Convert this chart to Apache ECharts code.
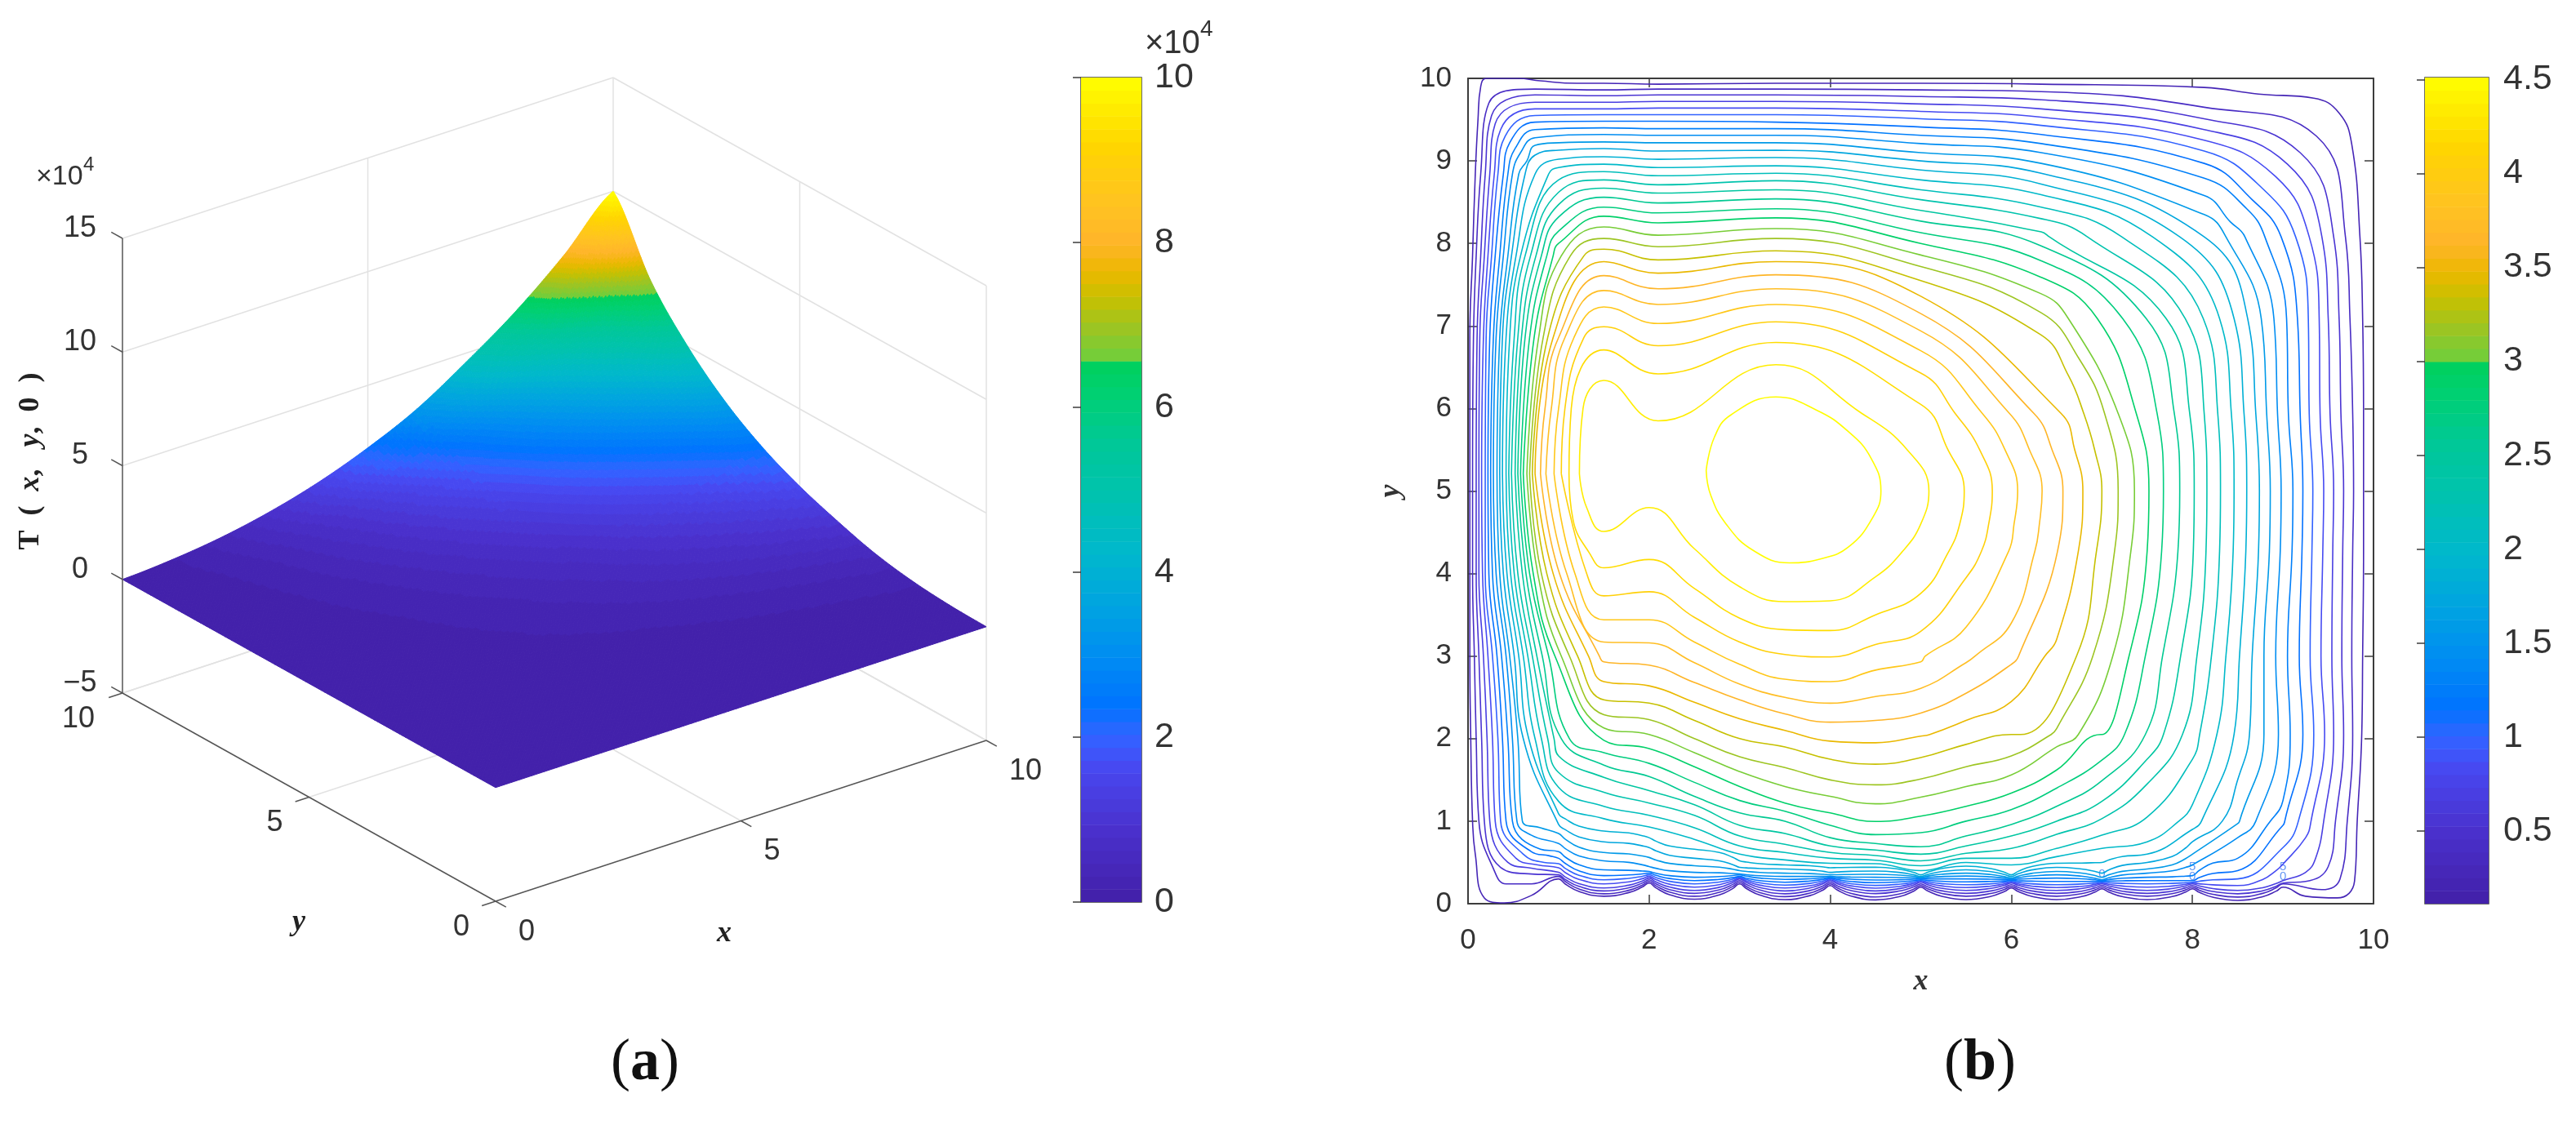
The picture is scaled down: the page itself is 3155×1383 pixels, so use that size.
<!DOCTYPE html>
<html>
<head>
<meta charset="utf-8">
<title>T(x, y, 0)</title>
<script src="https://cdn.jsdelivr.net/npm/echarts@6/dist/echarts.min.js"></script>
<style>
html, body { margin: 0; padding: 0; background: #fff; }
#main { width: 3155px; height: 1383px; }
</style>
</head>
<body>
<div id="main"></div>
<script>
var n = null;

// (a) surface values in units of 10^4, rows y = 0..10, columns x = 0..10
var surfaceZ = [
  [0, 0, 0, 0, 0, 0, 0, 0, 0, 0, 0],
  [0, 0, 0, 0, .01, .01, .02, .02, .03, .04, .05],
  [0, 0, .01, .02, .03, .05, .07, .09, .12, .16, .2],
  [0, .01, .02, .04, .07, .11, .16, .23, .31, .4, .5],
  [0, .02, .04, .09, .15, .23, .33, .46, .61, .79, 1],
  [0, .02, .07, .14, .23, .36, .52, .74, .98, 1.26, 1.6],
  [0, .04, .1, .2, .35, .54, .78, 1.1, 1.46, 1.9, 2.4],
  [0, .05, .15, .3, .51, .79, 1.14, 1.61, 2.14, 2.77, 3.5],
  [0, .08, .21, .43, .73, 1.13, 1.63, 2.3, 3.05, 3.95, 5],
  [0, .11, .29, .6, 1.02, 1.58, 2.28, 3.22, 4.27, 5.53, 7],
  [0, .15, .42, .85, 1.45, 2.25, 3.25, 4.6, 6.1, 7.9, 10]
];
var xTicks3d = [0, 5, 10];
var yTicks3d = [0, 5, 10];
var zTicks3d = [-5, 0, 5, 10, 15];
var colorbarTicksA = [0, 2, 4, 6, 8, 10];

// (b) contour levels, outermost first
var contourLevels = [.26, .41, .55, .7, .85, .99, 1.14, 1.28, 1.43, 1.58, 1.72, 1.87, 2.01, 2.16, 2.31, 2.45, 2.6, 2.74, 2.89, 3.04, 3.18, 3.33, 3.47, 3.62, 3.77, 3.91, 4.06, 4.2, 4.35, 4.49];
var colorbarTicksB = [0.5, 1, 1.5, 2, 2.5, 3, 3.5, 4, 4.5];

// x of each contour where it crosses a level y, left side
var leftYs = [1, 2, 3, 4, 5.21, 6, 6.86, 7.85, 8.84];
var leftX = [
  [.05, .12, .18, .24, .30, .36, .42, .49, .54, .60],
  [.03, .09, .15, .21, .27, .33, .38, .44, .49, .55, .61, .67, .74, .81, .88, .95, 1.03, 1.12],
  [.02, .07, .12, .17, .22, .27, .32, .37, .42, .46, .51, .56, .61, .66, .71, .76, .82, .89, .96, 1.03, 1.12, 1.21, 1.33, 1.45],
  [.02, .05, .09, .12, .16, .19, .23, .27, .31, .35, .39, .43, .47, .51, .55, .60, .64, .68, .72, .77, .81, .87, .94, 1.01, 1.09, 1.18, 1.31],
  [.02, .05, .09, .12, .15, .19, .22, .25, .28, .32, .35, .38, .42, .45, .48, .52, .55, .58, .61, .65, .68, .71, .74, .80, .86, .95, 1.03, 1.115, 1.23],
  [n, n, n, n, n, n, n, n, n, n, n, n, n, n, n, n, n, n, n, n, n, n, n, .85, .92, 1.0, 1.07, 1.14, 1.27],
  [.02, .06, .10, .13, .17, .20, .24, .28, .31, .35, .38, .42, .46, .51, .55, .59, .63, .68, .73, .78, .83, .88, .94, 1.0, 1.07, 1.17, 1.28],
  [.05, .09, .14, .18, .22, .26, .30, .35, .39, .44, .48, .53, .58, .63, .69, .75, .81, .87, .94, 1.03, 1.13, 1.28],
  [.08, .14, .19, .24, .29, .33, .39, .44, .49, .56, .63, .74, .89]
];

// y of each contour where it crosses a level x, upper side
var topXs = [.74, 1, 1.5, 2.1, 3.4, 5, 6.33, 8.13];
var topY = [
  [n, 9.87, 9.80, 9.71, 9.63, 9.55, 9.47, 9.38, 9.28, 9.19, 9.07],
  [n, n, n, n, n, n, n, n, n, 9.22, 9.13, 9.02, 8.92, 8.77, 8.62, 8.47, 8.32, 8.15, 8.0],
  [9.94, 9.86, 9.79, 9.71, 9.63, 9.56, 9.48, 9.40, 9.32, 9.23, 9.15, 9.05, 8.96, 8.87, 8.77, 8.67, 8.56, 8.44, 8.33, 8.20, 8.06, 7.93, 7.78, 7.61, 7.43, 7.23, 6.99, 6.71, 6.34],
  [9.93, 9.87, 9.80, 9.72, 9.64, 9.56, 9.48, 9.39, 9.31, 9.22, 9.12, 9.02, 8.92, 8.82, 8.71, 8.61, 8.49, 8.37, 8.25, 8.10, 7.96, 7.80, 7.64, 7.45, 7.26, 7.03, 6.76, 6.42, 5.85],
  [9.94, 9.87, 9.80, 9.72, 9.64, 9.56, 9.47, 9.39, 9.31, 9.22, 9.13, 9.04, 8.94, 8.85, 8.76, 8.65, 8.54, 8.42, 8.31, 8.18, 8.06, 7.91, 7.78, 7.62, 7.45, 7.26, 7.05, 6.80, 6.53],
  [9.94, 9.86, 9.78, 9.69, 9.60, 9.51, 9.41, 9.31, 9.21, 9.10, 9.00, 8.89, 8.77, 8.65, 8.53, 8.40, 8.27, 8.13, 8.0, 7.86, 7.72, 7.55, 7.36, 7.15, 6.94, 6.7, 6.43, 6.05],
  [9.93, 9.84, 9.74, 9.63, 9.53, 9.43, 9.32, 9.21, 9.10, 8.97, 8.85, 8.72, 8.59, 8.44, 8.30, 8.14, 7.97, 7.79, 7.59, 7.39, 7.16, 6.89],
  [9.89, 9.65, 9.51, 9.38, 9.25, 9.12, 8.97, 8.79, 8.58, 8.35]
];

// x of each contour where it crosses a level y, right side
var rightYs = [1, 2.05, 3, 4.27, 4.6, 5, 5.5, 5.94, 7.09, 8.08];
var rightX = [
  [9.82, 9.71, 9.58, 9.45, 9.31, 9.17, 9.02, 8.86, 8.7, 8.52, 8.33, 8.1, 7.85],
  [9.87, 9.77, 9.67, 9.56, 9.46, 9.34, 9.22, 9.08, 8.95, 8.79, 8.63, 8.46, 8.27, 8.08, 7.89, 7.68, 7.48, 7.25, 6.99, 6.74, 6.44, 6.1, 5.1],
  [9.88, 9.76, 9.65, 9.54, 9.42, 9.30, 9.18, 9.05, 8.92, 8.79, 8.66, 8.52, 8.37, 8.21, 8.05, 7.87, 7.67, 7.48, 7.3, 7.12, 6.9, 6.72, 6.37, 6.08, 5.6, 5.05],
  [9.89, 9.77, 9.66, 9.55, 9.44, 9.32, 9.21, 9.10, 8.97, 8.85, 8.73, 8.59, 8.45, 8.30, 8.15, 8.01, 7.84, 7.66, 7.50, 7.32, 7.14, 6.94, 6.74, 6.51, 6.26, 5.97, 5.67, 5.31, 4.80],
  [n, n, n, n, n, n, n, n, n, n, n, n, n, n, n, n, n, n, n, n, n, n, n, n, 6.31, 6.03, 5.75, 5.43, 5.0],
  [9.89, 9.78, 9.67, 9.56, 9.45, 9.33, 9.22, 9.11, 8.98, 8.86, 8.74, 8.60, 8.46, 8.31, 8.16, 8.02, 7.86, 7.68, 7.52, 7.36, 7.18, 7.0, 6.79, 6.57, 6.34, 6.07, 5.79, 5.48, 5.09],
  [n, n, n, n, n, n, n, n, n, n, n, n, n, n, n, n, n, n, n, n, n, 6.92, 6.7, 6.45, 6.2, 5.93, 5.65, 5.3, 4.85],
  [9.89, 9.77, 9.64, 9.52, 9.41, 9.29, 9.19, 9.06, 8.94, 8.82, 8.70, 8.57, 8.43, 8.28, 8.13, 7.97, 7.80, 7.61, 7.38, 7.18, 7.03, 6.8, 6.55, 6.25, 5.98, 5.68, 5.38, n, 4.35],
  [9.88, 9.74, 9.62, 9.5, 9.4, 9.28, 9.16, 9.04, 8.9, 8.76, 8.61, 8.46, 8.3, 8.12, 7.92, 7.71, 7.49, 7.23, 6.95, 6.63],
  [9.85, 9.69, 9.56, 9.43, 9.29, 9.14, 8.98, 8.8, 8.58, 8.37, 8.13, 7.86, 7.56, 7.22, 6.84, 6.42]
];

// y of each contour along the bottom, one row per contour, pinched at the hubs
var bottomXs = [1, 1.5, 2, 2.5, 3, 3.5, 4, 4.5, 5, 5.5, 6, 6.5, 7, 7.5, 8, 8.5, 9];
var bottomY = [
  [.30, .09, .25, .055, .24, .05, .22, .046, .20, .05, .19, .05, .18, .05, .18, .04, .20],
  [.33, .12, .27, .09, .26, .085, .24, .082, .22, .09, .21, .09, .20, .09, .20, .08, .24],
  [.35, .155, .29, .125, .28, .12, .26, .122, .24, .125, .23, .125, .22, .125, .22, .12, .25],
  [.38, .19, .31, .16, .30, .155, .28, .155, .26, .16, .25, .16, .24, .16, .24, .16, .28],
  [.435, .24, .33, .20, .31, .19, .29, .188, .27, .195, .26, .195, .25, .20, .25, .22, .48],
  [.485, .29, .35, .24, .32, .225, .30, .221, .28, .23, .27, .23, .26, .24, .26, .30, .68],
  [.55, .34, .37, .28, .33, .26, .31, .254, .29, .265, .28, .27, .27, .28, .28, .40, .95],
  [.63, .41, .39, .32, .35, .295, .32, .287, .30, .30, .29, .31, .28, .32, .34, .55, 1.25],
  [.73, .52, .45, .38, .36, .33, .33, .32, .31, .335, .30, .35, .29, .37, .47, .80],
  [.85, .62, .56, .46, .40, .37, .35, .356, .32, .37, .31, .39, .32, .42, .60, .97],
  [.96, .75, .68, .55, .44, .42, .38, .396, .33, .41, .33, .44, .37, .50, .75, 1.5],
  [1.09, .88, .80, .66, .52, .47, .435, .442, .35, .455, .35, .49, .50, .60, .90],
  [1.24, 1.03, .93, .78, .60, .53, .49, .485, .40, .50, .47, .57, .67, .75, 1.2],
  [1.41, 1.18, 1.07, .92, .70, .62, .55, .527, .46, .55, .55, .67, .83, 1.05, 1.75],
  [1.59, 1.35, 1.22, 1.07, .82, .72, .62, .584, .52, .61, .67, .84, 1.03, 1.45],
  [1.79, 1.53, 1.37, 1.2, .95, .85, .70, .65, .60, .70, .82, 1.0, 1.24, 1.75],
  [n, 1.68, 1.54, 1.3, 1.1, 1.0, .80, .73, .69, .82, .96, 1.18, 1.49],
  [n, 1.83, 1.70, 1.47, 1.25, 1.12, .95, .837, .86, 1.0, 1.14, 1.4, 1.74],
  [n, 1.98, 1.88, 1.66, 1.42, 1.22, 1.1, .996, 1.06, 1.18, 1.34, 1.62, 2.05],
  [n, 2.13, 2.05, 1.83, 1.6, 1.42, 1.3, 1.21, 1.29, 1.42, 1.56, 1.9],
  [n, 2.29, 2.23, 2.0, 1.78, 1.65, 1.5, 1.44, 1.51, 1.66, 1.79, 2.12],
  [n, 2.47, 2.43, 2.22, 2.0, 1.9, 1.75, 1.69, 1.77, 1.93, 2.05],
  [n, 2.69, 2.64, 2.44, 2.24, 2.1, 1.97, 1.95, 2.03, 2.22, 2.45, 3.2],
  [n, 2.93, 2.89, 2.68, 2.47, 2.3, 2.2, 2.22, 2.31, 2.55, 2.9],
  [n, 3.17, 3.16, 2.92, 2.66, 2.5, 2.43, 2.51, 2.61, 2.92, 3.4],
  [n, 3.44, 3.44, 3.17, 2.90, 2.72, 2.69, 2.83, 2.93, 3.35],
  [n, 3.73, 3.78, 3.47, 3.17, 3.02, 2.99, 3.14, 3.30, 3.95],
  [n, 4.07, 4.17, 3.82, 3.46, 3.32, 3.31, 3.50, 3.76],
  [n, 4.51, 4.80, 4.30, 3.84, 3.66, 3.67, 3.96]
];

// a few more points that do not sit on the levels above, per contour
var extraPoints = {
  0: [[.08, .6], [.18, .07], [.4, .01], [.7, .10], [9.79, .27], [9.6, .07], [9.25, .09], [.11, 9.5], [.14, 9.9], [.2, 10], [.55, 10], [.8, 9.97], [1.2, 9.94], [8.73, 9.81], [9.34, 9.76], [9.62, 9.58], [9.76, 9.2]],
  1: [[.29, .40], [.42, .24], [.7, .24], [9.63, .3], [9.43, .17], [.23, 9.7], [9.37, 9.30]],
  2: [[.36, .44], [.7, .36], [9.5, .45], [9.25, .27], [.26, 9.55], [9.19, 9.10]],
  3: [[.44, .5], [.7, .43], [9.36, .55], [9.25, .38], [.3, 9.45], [9.05, 8.96]],
  4: [[.53, .55], [.77, .47], [9.25, .8], [.36, 9.38], [8.92, 8.81]],
  5: [[.61, .6], [.84, .5], [.41, 9.3], [8.78, 8.66]],
  6: [[.7, .63], [.9, .58], [.46, 9.22], [8.66, 8.53]],
  7: [[.8, .66], [.52, 9.15], [8.6, 8.42]],
  8: [[.7, .83], [.58, 9.1], [8.42, 8.26]],
  9: [[.8, .92], [.65, 9.0]],
  20: [[6.75, 6.6]],
  21: [[6.63, 6.4]],
  27: [[1.16, 4.65], [1.34, 4.25]],
  28: [[1.31, 4.8]]
};

// innermost closed contour
var innerLoop = [[2.63, 5.25], [2.72, 5.65], [2.9, 5.92], [3.4, 6.14], [3.85, 5.98], [4.2, 5.72], [4.45, 5.4], [4.56, 5.0], [4.47, 4.68], [4.2, 4.32], [3.9, 4.18], [3.55, 4.13], [3.15, 4.28], [2.85, 4.6], [2.68, 4.95], [2.63, 5.25]];

// small clabel leftovers near the last hubs
var hubLabelX = [7, 8, 8, 9, 9];
var hubLabelY = [.36, .45, .33, .45, .33];
var hubLabelText = ['0', '5', '0', '5', '0'];

// colormap: position 0..1, colour
var rampStops = [[0, '#421fa8'], [.087, '#4a30cc'], [.163, '#4848f0'], [.19, '#3a5cff'], [.218, '#1f6cff'], [.235, '#0072ff'], [.307, '#0090f0'], [.36, '#00a4e0'], [.425, '#00b8cc'], [.49, '#00c2b0'], [.556, '#00c898'], [.62, '#00d070'], [.655, '#00d05c'], [.658, '#6fcf3c'], [.70, '#a0c420'], [.733, '#c8c000'], [.765, '#ecb800'], [.80, '#ffb52a'], [.85, '#ffc420'], [.916, '#ffd500'], [1, '#ffff00']];
var rampSteps = 64;
var colorbarMinB = .114, colorbarMaxB = 4.51;

var sansFont = '"Liberation Sans"';
var serifFont = '"Liberation Serif"';
var textColor = '#333';
var axisColor = '#3c3c3c';

function rampColor(f) {
  f = Math.max(0, Math.min(1, f));
  for (var i = 1; i < rampStops.length; i++) {
    if (f <= rampStops[i][0]) {
      var a = rampStops[i - 1], b = rampStops[i];
      return echarts.color.lerp((f - a[0]) / (b[0] - a[0]), [a[1], b[1]]);
    }
  }
  return rampStops[rampStops.length - 1][1];
}
var ramp = [];
for (var r = 0; r < rampSteps; r++) ramp.push(rampColor((r + .5) / rampSteps));

// oblique projection of the 3d box into the hidden cartesian of panel (a)
function project(x, y, z) {
  return [60.1 * x - 45.7 * y, 19.7 * x + 25.5 * y + 27.85 * (z + 5)];
}

// Catmull-Rom through the surface table, only used to shade between table cells
function cr(p0, p1, p2, p3, t) {
  return .5 * (2 * p1 + (p2 - p0) * t + (2 * p0 - 5 * p1 + 4 * p2 - p3) * t * t + (3 * p1 - p0 - 3 * p2 + p3) * t * t * t);
}
function surfaceAt(x, y) {
  var i = Math.min(9, Math.floor(x)), j = Math.min(9, Math.floor(y));
  var row = [];
  for (var k = -1; k <= 2; k++) {
    var rowVals = surfaceZ[Math.max(0, Math.min(10, j + k))];
    row.push(cr(rowVals[Math.max(0, i - 1)], rowVals[i], rowVals[i + 1], rowVals[Math.min(10, i + 2)], x - i));
  }
  return Math.max(0, cr(row[0], row[1], row[2], row[3], y - j));
}

function contourPoints(c) {
  var pts = [];
  leftYs.forEach(function (y, s) { if (leftX[s][c] != null) pts.push([leftX[s][c], y]); });
  topXs.forEach(function (x, s) { if (topY[s][c] != null) pts.push([x, topY[s][c]]); });
  rightYs.forEach(function (y, s) { if (rightX[s][c] != null) pts.push([rightX[s][c], y]); });
  bottomXs.forEach(function (x, s) { if (bottomY[c][s] != null) pts.push([x, bottomY[c][s]]); });
  // the lens arcs between hubs are round on top and cusped at the hubs
  if (c < 12) {
    bottomXs.forEach(function (x, s) {
      var mid = bottomY[c][s];
      if (s % 2 === 0 || mid == null) return;
      [s - 1, s + 1].forEach(function (h) {
        var hub = bottomY[c][h];
        if (hub != null && Math.abs(mid - hub) < .3) {
          pts.push([x + (bottomXs[h] - x) * .55, hub + (mid - hub) * .72]);
          pts.push([x + (bottomXs[h] - x) * .85, hub + (mid - hub) * .3]);
        }
      });
    });
  }
  (extraPoints[c] || []).forEach(function (p) { pts.push(p); });
  // walk round the contour by angle from a point inside all of them
  pts.sort(function (a, b) {
    return Math.atan2(a[1] - 5.3, a[0] - 2.1) - Math.atan2(b[1] - 5.3, b[0] - 2.1);
  });
  pts.push(pts[0]);
  return pts;
}

var contourSeries = [];
contourLevels.forEach(function (level, c) {
  contourSeries.push({
    type: 'line',
    xAxisIndex: 2,
    yAxisIndex: 2,
    data: c < bottomY.length ? contourPoints(c) : innerLoop,
    smooth: .45,
    showSymbol: false,
    clip: true,
    silent: true,
    lineStyle: { width: 1.6, color: rampColor((level - colorbarMinB) / (colorbarMaxB - colorbarMinB)) }
  });
});

// box lines of panel (a)
var boxLines = [];
zTicks3d.forEach(function (z) {
  boxLines.push([0, 10, z, 10, 10, z], [10, 10, z, 10, 0, z]);
});
boxLines.push([5, 10, -5, 5, 10, 15], [10, 10, -5, 10, 10, 15], [10, 5, -5, 10, 5, 15], [10, 0, -5, 10, 0, 15]);
boxLines.push([5, 0, -5, 5, 10, -5], [0, 5, -5, 10, 5, -5], [0, 10, -5, 10, 10, -5], [10, 0, -5, 10, 10, -5]);

var axisLines = [[0, 0, -5, 10, 0, -5], [0, 0, -5, 0, 10, -5], [0, 10, -5, 0, 10, 15]];
xTicks3d.forEach(function (x) { axisLines.push([x, 0, -5, x, -.28, -5]); });
yTicks3d.forEach(function (y) { axisLines.push([0, y, -5, -.28, y, -5]); });
zTicks3d.forEach(function (z) { axisLines.push([0, 10, z, 0, 10.3, z]); });

function segmentSeries(data, color, width) {
  return {
    type: 'custom',
    xAxisIndex: 0,
    yAxisIndex: 0,
    clip: false,
    silent: true,
    data: data,
    renderItem: function (params, api) {
      var a = api.coord(project(api.value(0), api.value(1), api.value(2)));
      var b = api.coord(project(api.value(3), api.value(4), api.value(5)));
      return {
        type: 'line',
        shape: { x1: a[0], y1: a[1], x2: b[0], y2: b[1] },
        style: { stroke: color, lineWidth: width }
      };
    }
  };
}

var surfaceCells = [];
for (var cy = 9; cy >= 0; cy--) {
  for (var cx = 9; cx >= 0; cx--) surfaceCells.push([cx, cy]);
}

var surfaceSeries = {
  type: 'custom',
  xAxisIndex: 0,
  yAxisIndex: 0,
  clip: false,
  silent: true,
  progressive: 0,
  data: surfaceCells,
  renderItem: function (params, api) {
    var cx = api.value(0), cy = api.value(1), children = [];
    // the steep cells near the peak need finer shading
    var subdivisions = (cx >= 6 && cy >= 6) ? 36 : 12;
    var step = 1 / subdivisions;
    for (var a = subdivisions - 1; a >= 0; a--) {
      for (var b = subdivisions - 1; b >= 0; b--) {
        var x0 = cx + a * step, y0 = cy + b * step, x1 = x0 + step, y1 = y0 + step;
        var z = surfaceAt(x0 + step / 2, y0 + step / 2);
        var color = ramp[Math.min(rampSteps - 1, Math.floor(z / 10 * rampSteps))];
        children.push({
          type: 'polygon',
          shape: {
            points: [
              api.coord(project(x0, y0, surfaceAt(x0, y0))),
              api.coord(project(x1, y0, surfaceAt(x1, y0))),
              api.coord(project(x1, y1, surfaceAt(x1, y1))),
              api.coord(project(x0, y1, surfaceAt(x0, y1)))
            ]
          },
          style: { fill: color, stroke: color, lineWidth: 1 }
        });
      }
    }
    return { type: 'group', children: children };
  }
};

// tick labels of panel (a): [x, y, z, text, dx, dy]
var tickLabels3d = [];
xTicks3d.forEach(function (x) { tickLabels3d.push([x, 0, -5, String(x), x === 10 ? 48 : 38, 38]); });
yTicks3d.forEach(function (y) { tickLabels3d.push([0, y, -5, String(y), y === 10 ? -54 : -42, 32]); });
zTicks3d.forEach(function (z) { tickLabels3d.push([0, 10, z, String(z).replace('-', '\u2212'), -52, -12]); });

var tickLabelSeries = {
  type: 'custom',
  xAxisIndex: 0,
  yAxisIndex: 0,
  clip: false,
  silent: true,
  data: tickLabels3d,
  dimensions: ['x', 'y', 'z', { name: 'text', type: 'ordinal' }, 'dx', 'dy'],
  renderItem: function (params, api) {
    var row = tickLabels3d[params.dataIndex];
    var p = api.coord(project(row[0], row[1], row[2]));
    return {
      type: 'text',
      x: p[0] + row[4],
      y: p[1] + row[5],
      style: { text: row[3], fontFamily: sansFont, fontSize: 36, fill: textColor, align: 'center', verticalAlign: 'middle' }
    };
  }
};

function colorbarSeries(axisIndex, lo, hi) {
  return {
    type: 'custom',
    xAxisIndex: axisIndex,
    yAxisIndex: axisIndex,
    silent: true,
    clip: true,
    data: ramp.map(function (c, i) { return [i]; }),
    renderItem: function (params, api) {
      var i = api.value(0);
      var y0 = lo + (hi - lo) * i / rampSteps, y1 = lo + (hi - lo) * (i + 1) / rampSteps;
      var a = api.coord([0, y0]), b = api.coord([1, y1]);
      return {
        type: 'rect',
        shape: { x: a[0], y: b[1], width: b[0] - a[0], height: a[1] - b[1] + .5 },
        style: { fill: ramp[i] }
      };
    }
  };
}

function hiddenX(min, max, gridIndex) {
  return { type: 'value', gridIndex: gridIndex, min: min, max: max, show: false };
}

var tickStyle = { color: axisColor, width: 1.5 };
var labelStyle = { fontFamily: sansFont, fontSize: 35, color: textColor };
var barLabelStyle = { fontFamily: sansFont, fontSize: 43, color: textColor };

var option = {
  animation: false,
  backgroundColor: '#fff',
  grid: [
    { left: 150, top: 92, width: 1058, height: 1012 },
    { left: 1324, top: 95, width: 74, height: 1010, show: true, borderColor: axisColor, borderWidth: 1.5 },
    { left: 1798, top: 96, width: 1109, height: 1011 },
    { left: 2970, top: 95, width: 78, height: 1012, show: true, borderColor: axisColor, borderWidth: 1.5 }
  ],
  xAxis: [
    hiddenX(-457, 601, 0),
    hiddenX(0, 1, 1),
    {
      type: 'value', gridIndex: 2, min: 0, max: 10, interval: 2, position: 'bottom',
      axisLine: { show: true, onZero: false, lineStyle: { color: axisColor, width: 2 } },
      axisTick: { show: true, inside: true, length: 11, lineStyle: tickStyle },
      axisLabel: Object.assign({ margin: 28 }, labelStyle),
      splitLine: { show: false },
      name: 'x', nameLocation: 'middle', nameGap: 78,
      nameTextStyle: { fontFamily: serifFont, fontSize: 36, fontWeight: 'bold', fontStyle: 'italic', color: textColor }
    },
    {
      type: 'value', gridIndex: 2, min: 0, max: 10, interval: 2, position: 'top',
      axisLine: { show: true, onZero: false, lineStyle: { color: axisColor, width: 2 } },
      axisTick: { show: true, inside: true, length: 11, lineStyle: tickStyle },
      axisLabel: { show: false },
      splitLine: { show: false }
    },
    hiddenX(0, 1, 3)
  ],
  yAxis: [
    hiddenX(0, 1012, 0),
    {
      type: 'value', gridIndex: 1, min: 0, max: 10, interval: 2, position: 'right',
      axisLine: { show: false },
      axisTick: { show: true, inside: true, length: 10, lineStyle: tickStyle },
      axisLabel: Object.assign({ margin: 16, customValues: colorbarTicksA }, barLabelStyle),
      splitLine: { show: false }
    },
    {
      type: 'value', gridIndex: 2, min: 0, max: 10, interval: 1, position: 'left',
      axisLine: { show: true, onZero: false, lineStyle: { color: axisColor, width: 2 } },
      axisTick: { show: true, inside: true, length: 11, lineStyle: tickStyle },
      axisLabel: Object.assign({ margin: 20 }, labelStyle),
      splitLine: { show: false },
      name: 'y', nameLocation: 'middle', nameGap: 76, nameRotate: 90,
      nameTextStyle: { fontFamily: serifFont, fontSize: 36, fontWeight: 'bold', fontStyle: 'italic', color: textColor }
    },
    {
      type: 'value', gridIndex: 2, min: 0, max: 10, interval: 1, position: 'right',
      axisLine: { show: true, onZero: false, lineStyle: { color: axisColor, width: 2 } },
      axisTick: { show: true, inside: true, length: 11, lineStyle: tickStyle },
      axisLabel: { show: false },
      splitLine: { show: false }
    },
    {
      type: 'value', gridIndex: 3, min: colorbarMinB, max: colorbarMaxB, position: 'right',
      axisLine: { show: false },
      axisTick: { show: true, inside: true, length: 10, lineStyle: tickStyle, customValues: colorbarTicksB },
      axisLabel: Object.assign({ margin: 18, customValues: colorbarTicksB, formatter: function (v) { return String(v); } }, barLabelStyle),
      splitLine: { show: false }
    }
  ],
  series: [
    segmentSeries(boxLines, '#e2e2e2', 1.5),
    surfaceSeries,
    segmentSeries(axisLines, '#555', 1.5),
    tickLabelSeries,
    Object.assign(colorbarSeries(1, 0, 10), { yAxisIndex: 1, xAxisIndex: 1 })
  ].concat(contourSeries).concat([
    {
      type: 'scatter',
      xAxisIndex: 2,
      yAxisIndex: 2,
      symbolSize: 0,
      silent: true,
      data: hubLabelX.map(function (x, i) { return [x, hubLabelY[i]]; }),
      label: {
        show: true,
        position: 'inside',
        fontFamily: sansFont,
        fontSize: 15,
        color: '#3f7df0',
        formatter: function (p) { return hubLabelText[p.dataIndex]; }
      }
    },
    Object.assign(colorbarSeries(4, colorbarMinB, colorbarMaxB), { xAxisIndex: 4, yAxisIndex: 4 })
  ]),
  graphic: [
    { type: 'text', x: 44, y: 200, style: { text: '\u00d710', fontFamily: sansFont, fontSize: 34, fill: textColor } },
    { type: 'text', x: 102, y: 190, style: { text: '4', fontFamily: sansFont, fontSize: 24, fill: textColor } },
    { type: 'text', x: 1402, y: 34, style: { text: '\u00d710', fontFamily: sansFont, fontSize: 40, fill: textColor } },
    { type: 'text', x: 1470, y: 22, style: { text: '4', fontFamily: sansFont, fontSize: 28, fill: textColor } },
    {
      type: 'text', x: 38, y: 565, rotation: Math.PI / 2,
      style: {
        text: '{b|T  (  }{i|x}{b|,   }{i|y}{b|,  0  )}',
        align: 'center', verticalAlign: 'middle',
        rich: {
          b: { fontFamily: serifFont, fontSize: 36, fontWeight: 'bold', fill: '#222' },
          i: { fontFamily: serifFont, fontSize: 36, fontWeight: 'bold', fontStyle: 'italic', fill: '#222' }
        }
      }
    },
    { type: 'text', x: 366, y: 1130, style: { text: 'y', align: 'center', verticalAlign: 'middle', fontFamily: serifFont, fontSize: 36, fontWeight: 'bold', fontStyle: 'italic', fill: '#222' } },
    { type: 'text', x: 887, y: 1144, style: { text: 'x', align: 'center', verticalAlign: 'middle', fontFamily: serifFont, fontSize: 36, fontWeight: 'bold', fontStyle: 'italic', fill: '#222' } },
    {
      type: 'text', x: 790, y: 1303,
      style: {
        text: '{n|(}{b|a}{n|)}', align: 'center', verticalAlign: 'middle',
        rich: {
          n: { fontFamily: serifFont, fontSize: 72, fill: '#111' },
          b: { fontFamily: serifFont, fontSize: 72, fontWeight: 'bold', fill: '#111' }
        }
      }
    },
    {
      type: 'text', x: 2425, y: 1303,
      style: {
        text: '{n|(}{b|b}{n|)}', align: 'center', verticalAlign: 'middle',
        rich: {
          n: { fontFamily: serifFont, fontSize: 72, fill: '#111' },
          b: { fontFamily: serifFont, fontSize: 72, fontWeight: 'bold', fill: '#111' }
        }
      }
    }
  ]
};

var chart = echarts.init(document.getElementById('main'));
chart.setOption(option);
</script>
</body>
</html>
